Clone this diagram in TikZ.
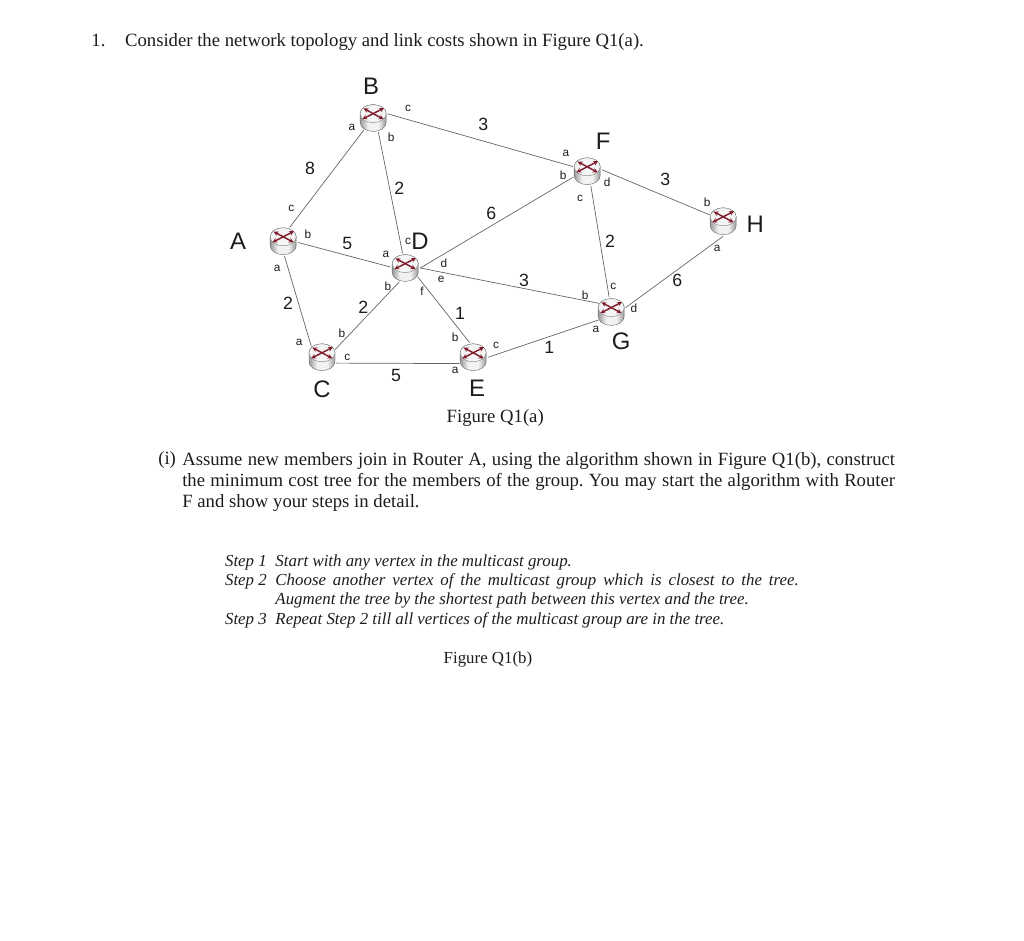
\documentclass[tikz,border=0pt]{standalone}
\usepackage{xcolor}
\usepackage{fontspec}
\setmainfont{Liberation Serif}
\newfontfamily\arialfont{Liberation Sans}
\usetikzlibrary{arrows.meta,positioning,calc}
\definecolor{rtrred}{HTML}{7E1A2A}
\definecolor{inkdark}{HTML}{1C1C1C}
\pgfdeclarehorizontalshading{rtrbody}{100bp}{color(0bp)=(black!40); color(25bp)=(black!40); color(40bp)=(black!5); color(60bp)=(black!5); color(75bp)=(black!40); color(100bp)=(black!40)}
\frenchspacing

\begin{document}
\begin{tikzpicture}[
    rtr/.style={circle, minimum size=7.4mm, inner sep=0pt, path picture={
      \begin{scope}[shift={(path picture bounding box.center)}]
        \path[draw=black!60, line width=.3pt, shading=rtrbody]
          (-.325,.11) -- (-.325,-.11) arc[start angle=180, end angle=360, x radius=.325, y radius=.225]
          -- (.325,.11) arc[start angle=0, end angle=180, x radius=.325, y radius=.225] -- cycle;
        \draw[black!50, line width=.3pt, fill=black!4] (0,.11) ellipse[x radius=.325, y radius=.225];
        \draw[rtrred, line width=1pt, {Stealth[length=1.2mm,width=1.2mm]}-{Stealth[length=1.2mm,width=1.2mm]}] (-.27,-.03) -- (.27,.25);
        \draw[rtrred, line width=1pt, {Stealth[length=1.2mm,width=1.2mm]}-{Stealth[length=1.2mm,width=1.2mm]}] (-.24,.24) -- (.26,-.03);
      \end{scope}}},
    link/.style={draw=black!60, line width=.5pt},
    rname/.style={font=\arialfont\fontsize{17}{17}\selectfont, text=inkdark, inner sep=0pt},
    cost/.style={font=\arialfont\fontsize{12.6}{12.6}\selectfont, text=inkdark, inner sep=0pt},
    port/.style={font=\arialfont\fontsize{8.4}{8.4}\selectfont, text=inkdark, inner sep=0pt},
    body/.style={font=\fontsize{13.3}{15}\selectfont, text=inkdark, inner sep=0pt},
    steptxt/.style={font=\itshape\fontsize{12}{13.9}\selectfont, text=inkdark, inner sep=0pt}
  ]
    \useasboundingbox (0,0) rectangle (25.6,-23.525);

    % Question text
    \node[body, anchor=base west] (num) at (2.28,-1.15) {1.};
    \node[body, anchor=base west] (intro) at (3.12,-1.15) {Consider the network topology and link costs shown in Figure Q1(a).};

    % Routers
    \node[rtr] (A) at (7.08,-6.03) {};
    \node[rtr] (B) at (9.33,-2.95) {};
    \node[rtr] (C) at (8.05,-8.93) {};
    \node[rtr] (D) at (10.13,-6.70) {};
    \node[rtr] (E) at (11.83,-8.93) {};
    \node[rtr] (F) at (14.68,-4.28) {};
    \node[rtr] (G) at (15.28,-7.80) {};
    \node[rtr] (H) at (18.08,-5.53) {};

    % Links
    \draw[link] (A.65) -- (B.232);
    \draw[link] (A.-85) -- (C.135);
    \draw[link] (A.-5) -- (D.176);
    \draw[link] (B.-70) -- (D.100);
    \draw[link] (B.16) -- (F.162);
    \draw[link] (C.30) -- (D.247);
    \draw[link] (C.-23) -- (E.205);
    \draw[link] (D.-35) -- (E.104);
    \draw[link] (D.0) -- (F.203);
    \draw[link] (D.0) -- (G.145);
    \draw[link] (E.0) -- (G.212);
    \draw[link] (F.-76) -- (G.98);
    \draw[link] (F.5) -- (H.155);
    \draw[link] (G.17) -- (H.-90);

    % Router names
    \node[rname] (nameA) at (5.95,-6.03) {A};
    \node[rname] (nameB) at (9.28,-2.15) {B};
    \node[rname] (nameC) at (8.05,-9.73) {C};
    \node[rname] (nameD) at (10.50,-6.03) {D};
    \node[rname] (nameE) at (11.93,-9.70) {E};
    \node[rname] (nameF) at (15.08,-3.53) {F};
    \node[rname] (nameG) at (15.53,-8.53) {G};
    \node[rname] (nameH) at (18.88,-5.60) {H};

    % Link costs
    \node[cost] (costAB) at (7.75,-4.22) {8};
    \node[cost] (costBF) at (12.08,-3.10) {3};
    \node[cost] (costBD) at (9.98,-4.70) {2};
    \node[cost] (costDF) at (12.28,-5.33) {6};
    \node[cost] (costAD) at (8.68,-6.08) {5};
    \node[cost] (costAC) at (7.20,-7.58) {2};
    \node[cost] (costCD) at (9.08,-7.68) {2};
    \node[cost] (costDE) at (11.50,-7.83) {1};
    \node[cost] (costCE) at (9.90,-9.38) {5};
    \node[cost] (costDG) at (13.10,-7.00) {3};
    \node[cost] (costEG) at (13.73,-8.68) {1};
    \node[cost] (costFG) at (15.25,-6.03) {2};
    \node[cost] (costFH) at (16.63,-4.48) {3};
    \node[cost] (costGH) at (16.93,-7.00) {6};

    % Port letters
    \node[port] (Ba) at (8.80,-3.18) {a};
    \node[port] (Bb) at (9.78,-3.43) {b};
    \node[port] (Bc) at (10.20,-2.70) {c};
    \node[port] (Ac) at (7.28,-5.20) {c};
    \node[port] (Ab) at (7.70,-5.85) {b};
    \node[port] (Aa) at (6.93,-6.70) {a};
    \node[port] (Da) at (9.65,-6.35) {a};
    \node[port] (Dc) at (10.20,-6.03) {c};
    \node[port] (Dd) at (11.10,-6.58) {d};
    \node[port] (De) at (11.03,-6.98) {e};
    \node[port] (Df) at (10.55,-7.28) {f};
    \node[port] (Db) at (9.70,-7.15) {b};
    \node[port] (Ca) at (7.48,-8.55) {a};
    \node[port] (Cb) at (8.55,-8.33) {b};
    \node[port] (Cc) at (8.68,-8.93) {c};
    \node[port] (Eb) at (11.38,-8.43) {b};
    \node[port] (Ec) at (12.40,-8.63) {c};
    \node[port] (Ea) at (11.38,-9.25) {a};
    \node[port] (Fa) at (14.15,-3.83) {a};
    \node[port] (Fb) at (14.08,-4.38) {b};
    \node[port] (Fd) at (15.18,-4.55) {d};
    \node[port] (Fc) at (14.50,-4.95) {c};
    \node[port] (Hb) at (17.68,-5.05) {b};
    \node[port] (Ha) at (17.93,-6.20) {a};
    \node[port] (Gc) at (15.33,-7.15) {c};
    \node[port] (Gb) at (14.63,-7.38) {b};
    \node[port] (Gd) at (15.85,-7.70) {d};
    \node[port] (Ga) at (14.90,-8.23) {a};

    \node[body, anchor=base] (capA) at (12.38,-10.55) {Figure Q1(a)};

    % Part (i)
    \node[body, anchor=base west] (parti) at (3.95,-11.62) {(i)};
    \node[body, anchor=north west, text width=17.82cm, align=justify] (partitxt) at (4.55,-11.31)
      {Assume new members join in Router A, using the algorithm shown in Figure Q1(b), construct\linebreak
       the minimum cost tree for the members of the group. You may start the algorithm with Router\linebreak
       F and show your steps in detail.};

    % Algorithm steps
    \node[steptxt, anchor=base west] (step1) at (5.62,-14.15) {Step 1};
    \node[steptxt, anchor=base west] (step1txt) at (6.88,-14.15) {Start with any vertex in the multicast group.};
    \node[steptxt, anchor=base west] (step2) at (5.62,-14.64) {Step 2};
    \node[steptxt, anchor=north west, text width=13.08cm, align=justify] (step2txt) at (6.88,-14.33)
      {Choose another vertex of the multicast group which is closest to the tree.\linebreak
       Augment the tree by the shortest path between this vertex and the tree.};
    \node[steptxt, anchor=base west] (step3) at (5.62,-15.60) {Step 3};
    \node[steptxt, anchor=base west] (step3txt) at (6.88,-15.60) {Repeat Step 2 till all vertices of the multicast group are in the tree.};

    \node[body, font=\fontsize{12}{14}\selectfont, anchor=base] (capB) at (12.20,-16.58) {Figure Q1(b)};
  \end{tikzpicture}
\end{document}
